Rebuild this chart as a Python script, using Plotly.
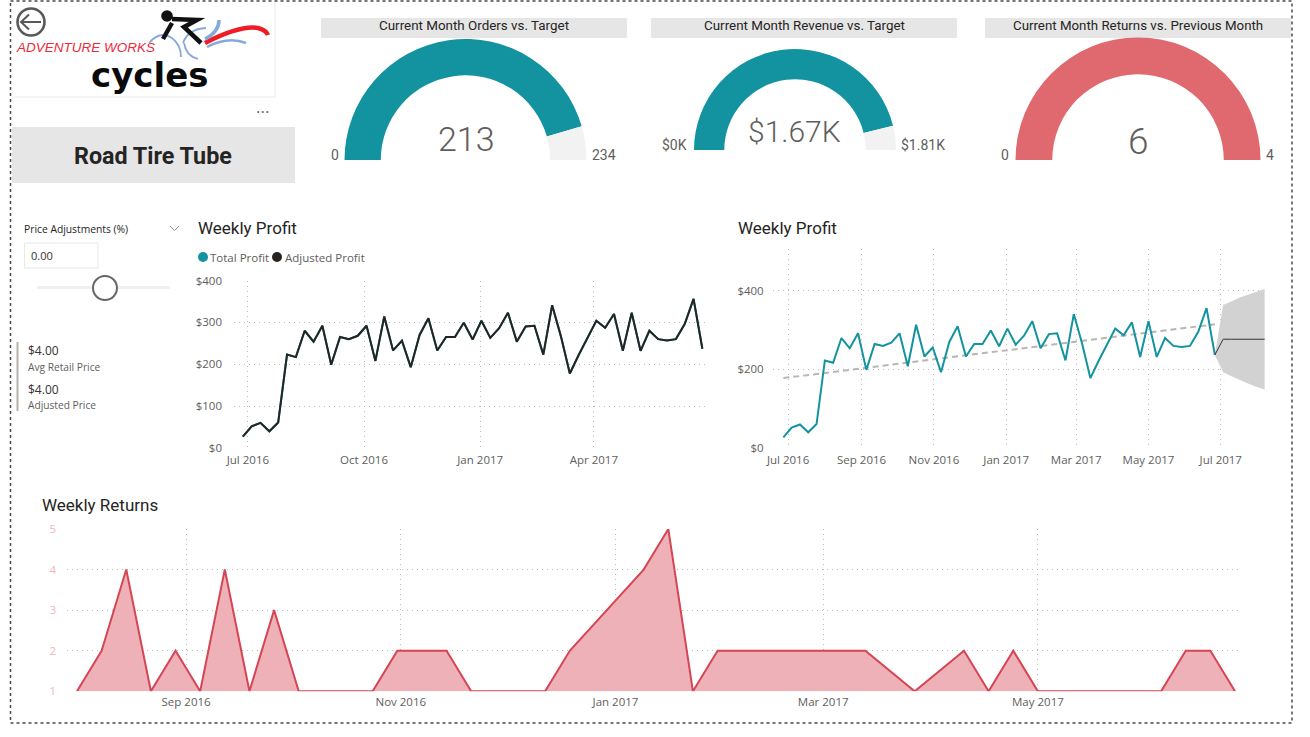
import pandas as pd
import plotly.graph_objects as go

W, H = 1310, 737

# ---------- data ----------
profit_values = [27, 52, 60, 40, 61, 223, 217, 280, 254, 292, 199, 265, 260, 268, 292, 208, 314, 233,
                 256, 193, 270, 310, 233, 265, 265, 299, 259, 304, 263, 286, 323, 254, 290, 292, 223,
                 341, 266, 178, 222, 264, 304, 287, 320, 232, 323, 232, 280, 260, 257, 260, 296, 356, 237]
profit_start = "2016-06-27"

trend_dates = ["2016-06-27", "2017-06-26"]
trend_values = [178, 315]

forecast_dates = ["2017-06-26", "2017-07-03", "2017-07-10", "2017-07-17", "2017-07-24", "2017-07-31", "2017-08-07"]
forecast_values = [237, 277, 277, 277, 277, 277, 277]
forecast_upper = [237, 364, 373, 383, 390, 398, 405]
forecast_lower = [237, 193, 183, 173, 164, 156, 149]

returns_dates = ["2016-08-01", "2016-08-08", "2016-08-15", "2016-08-22", "2016-08-29", "2016-09-05", "2016-09-12",
                 "2016-09-19", "2016-09-26", "2016-10-03", "2016-10-10", "2016-10-17", "2016-10-24", "2016-10-31",
                 "2016-11-07", "2016-11-14", "2016-11-21", "2016-11-28", "2016-12-05", "2016-12-12", "2016-12-19",
                 "2017-01-09", "2017-01-16", "2017-01-23", "2017-01-30", "2017-02-06", "2017-02-13", "2017-02-20",
                 "2017-02-27", "2017-03-06", "2017-03-13", "2017-03-27", "2017-04-10", "2017-04-17", "2017-04-24",
                 "2017-05-01", "2017-05-08", "2017-05-15", "2017-05-22", "2017-05-29", "2017-06-05", "2017-06-12",
                 "2017-06-19", "2017-06-26"]
returns_values = [1, 2, 4, 1, 2, 1, 4, 1, 3, 1, 1, 1, 1, 2, 2, 2, 1, 1, 1, 1, 2,
                  4, 5, 1, 2, 2, 2, 2, 2, 2, 2, 1, 2, 1, 2, 1, 1, 1, 1, 1, 1, 2, 2, 1]
returns_base = [1] * len(returns_values)

orders_gauge = [213, 21, 234]
revenue_gauge = [1670, 140, 1810]
returns_gauge = [6, 0, 6]

ticks1 = ["2016-07-01", "2016-10-01", "2017-01-01", "2017-04-01"]
ticks1_text = ["Jul 2016", "Oct 2016", "Jan 2017", "Apr 2017"]
ticks2 = ["2016-07-01", "2016-09-01", "2016-11-01", "2017-01-01", "2017-03-01", "2017-05-01", "2017-07-01"]
ticks2_text = ["Jul 2016", "Sep 2016", "Nov 2016", "Jan 2017", "Mar 2017", "May 2017", "Jul 2017"]
ticks3 = ["2016-09-01", "2016-11-01", "2017-01-01", "2017-03-01", "2017-05-01"]
ticks3_text = ["Sep 2016", "Nov 2016", "Jan 2017", "Mar 2017", "May 2017"]

# ---------- style ----------
TEAL = "#12939F"
DARK = "#252423"
RED = "#E0696F"
RED_LINE = "#D64554"
RED_FILL = "#EEB1B7"
PALE = "#F2F2F2"
GREY_TXT = "#605E5C"
BODY = "Open Sans, sans-serif"
HEAD = "Roboto, sans-serif"
GRID = "#BDBBB9"

profit_dates = pd.date_range(profit_start, periods=len(profit_values), freq="7D")


def px(x):
    return x / W


def py(y):
    return 1 - y / H


def domain(a, b):
    return [px(a), px(b)]


def ydomain(top, bottom):
    return [py(bottom), py(top)]


annotations, shapes = [], []


def text(x, y, s, size=12, color=GREY_TXT, anchor="left", family=BODY, weight=None):
    font = dict(size=size, color=color, family=family)
    if weight:
        font["weight"] = weight
    annotations.append(dict(x=px(x), y=py(y), xref="paper", yref="paper", text=s, showarrow=False,
                            xanchor=anchor, yanchor="middle", font=font, borderpad=0, borderwidth=0))


def rect(x0, y0, x1, y1, fill="rgba(0,0,0,0)", line=None, width=1, dash="solid"):
    shapes.append(dict(type="rect", xref="paper", yref="paper", x0=px(x0), x1=px(x1), y0=py(y0), y1=py(y1),
                       fillcolor=fill, line=dict(color=line or "rgba(0,0,0,0)", width=width if line else 0, dash=dash),
                       layer="below"))


def circle(cx, cy, r, fill="rgba(0,0,0,0)", line=None, width=1):
    shapes.append(dict(type="circle", xref="paper", yref="paper", x0=px(cx - r), x1=px(cx + r), y0=py(cy + r),
                       y1=py(cy - r), fillcolor=fill,
                       line=dict(color=line or "rgba(0,0,0,0)", width=width if line else 0), layer="above"))


def stroke(cmds, color, width=1, cap_layer="above"):
    """cmds like [('M',x,y),('L',x,y),('Q',cx,cy,x,y)] in page pixels."""
    parts = []
    for c in cmds:
        coords = []
        for i in range(1, len(c), 2):
            coords.append(f"{px(c[i]):.5f},{py(c[i + 1]):.5f}")
        parts.append(c[0] + " " + " ".join(coords))
    shapes.append(dict(type="path", xref="paper", yref="paper", path=" ".join(parts),
                       line=dict(color=color, width=width), layer=cap_layer))


# ---------- page furniture ----------
rect(10.5, 1, 1292, 723, line="#4A4A4A", width=1.5, dash="dot")

# logo box
stroke([("M", 275, 2), ("L", 275, 97), ("L", 12, 97)], "#EAEAEA", 1)
# back arrow
circle(31, 22, 13.5, line="#595959", width=2.6)
stroke([("M", 21, 22), ("L", 41, 22)], "#595959", 2)
stroke([("M", 29, 14.5), ("L", 21, 22), ("L", 29, 29.5)], "#595959", 2)
# logo: wheels
stroke([("M", 149, 43), ("Q", 160, 30, 172, 38), ("Q", 181, 45, 181, 57)], "#86A9DC", 1.8)
stroke([("M", 183, 43), ("Q", 188, 29, 206, 28)], "#86A9DC", 1.8)
stroke([("M", 184, 43), ("Q", 186, 56, 198, 59)], "#86A9DC", 1.8)
# logo: rider
circle(167, 16, 5.8, fill="#111111")
stroke([("M", 172, 19), ("L", 197, 20), ("L", 184, 27), ("L", 201, 43)], "#111111", 4.5)
stroke([("M", 172, 23), ("L", 163, 39)], "#111111", 4.5)
# logo: swooshes
stroke([("M", 205, 43), ("Q", 240, 25, 258, 28), ("Q", 266, 30, 268, 35)], "#EE1C25", 4.5)
stroke([("M", 205, 39), ("Q", 219, 32, 219, 20)], "#86A9DC", 3.5)
stroke([("M", 207, 47), ("Q", 228, 36, 246, 43)], "#86A9DC", 2.5)
text(15.5, 47, "<i>ADVENTURE WORKS</i>", 13.5, "#EE2A3A", family="Liberation Sans, sans-serif")
text(149, 75, "<b>cycles</b>", 34, "#0A0A0A", anchor="center", family="DejaVu Sans, sans-serif")
text(262, 106, "...", 17, "#666666", anchor="center")

# product title
rect(12, 127, 295, 183, fill="#E6E6E6")
text(153, 156, "<b>Road Tire Tube</b>", 23.3, "#252423", anchor="center", family=HEAD)

# gauge headers
rect(321, 18, 627, 38, fill="#E6E6E6")
rect(651, 18, 957, 38, fill="#E6E6E6")
rect(985, 18, 1291, 38, fill="#E6E6E6")
text(474, 26, "Current Month Orders vs. Target", 13.4, "#252423", anchor="center", family=HEAD)
text(804, 26, "Current Month Revenue vs. Target", 13.4, "#252423", anchor="center", family=HEAD)
text(1138, 26, "Current Month Returns vs. Previous Month", 13.3, "#252423", anchor="center", family=HEAD)

# gauge texts
text(466, 139, "213", 34, GREY_TXT, anchor="center", family=HEAD, weight=300)
text(335, 155, "0", 14, GREY_TXT, anchor="center", family=HEAD)
text(604, 155, "234", 14, GREY_TXT, anchor="center", family=HEAD)
text(794, 132, "$1.67K", 30, GREY_TXT, anchor="center", family=HEAD, weight=300)
text(674, 145, "$0K", 14, GREY_TXT, anchor="center", family=HEAD)
text(923, 145, "$1.81K", 14, GREY_TXT, anchor="center", family=HEAD)
text(1138, 141, "6", 37, GREY_TXT, anchor="center", family=HEAD, weight=300)
text(1005, 155, "0", 14, GREY_TXT, anchor="center", family=HEAD)
text(1270, 155, "4", 14, GREY_TXT, anchor="center", family=HEAD)

# slicer
text(24, 229, "Price Adjustments (%)", 10.3, "#252423")
stroke([("M", 170, 226), ("L", 174.5, 230.5), ("L", 179, 226)], "#7A9A9A", 1)
rect(24.5, 243, 98, 268, line="#E8E8E8", width=1)
text(31, 255.5, "0.00", 11, "#333333")
rect(37, 286, 170, 289, fill="#F0F0F0")
circle(105, 288, 12, fill="#FFFFFF", line="#666666", width=2)

# card
rect(16.5, 342, 18.5, 411, fill="#B3B0AD")
text(28, 351, "$4.00", 12, "#333333")
text(28, 366.5, "Avg Retail Price", 10.2, GREY_TXT)
text(28, 389, "$4.00", 12, "#333333")
text(28, 404.5, "Adjusted Price", 10.2, GREY_TXT)

# chart titles and legend
text(197.5, 228, "Weekly Profit", 17, "#252423", family=HEAD)
text(737.5, 228, "Weekly Profit", 17, "#252423", family=HEAD)
text(42, 505, "Weekly Returns", 17, "#252423", family=HEAD)
circle(203, 257, 5, fill=TEAL)
text(209.5, 257, "Total Profit", 11.5, GREY_TXT)
circle(277, 257, 5, fill=DARK)
text(284.5, 257, "Adjusted Profit", 11.5, GREY_TXT)

# ---------- traces ----------
fig = go.Figure()

# chart 1
fig.add_trace(go.Scatter(x=profit_dates, y=profit_values, mode="lines", name="Total Profit", xaxis="x", yaxis="y",
                         line=dict(color=TEAL, width=2), showlegend=False))
fig.add_trace(go.Scatter(x=profit_dates, y=profit_values, mode="lines", name="Adjusted Profit", xaxis="x", yaxis="y",
                         line=dict(color=DARK, width=2), showlegend=False))

# chart 2
fig.add_trace(go.Scatter(x=forecast_dates, y=forecast_upper, mode="lines", name="Upper bound", xaxis="x2", yaxis="y2",
                         line=dict(width=0), showlegend=False))
fig.add_trace(go.Scatter(x=forecast_dates, y=forecast_lower, mode="lines", name="Lower bound", xaxis="x2", yaxis="y2",
                         line=dict(width=0), fill="tonexty", fillcolor="#D2D2D2", showlegend=False))
fig.add_trace(go.Scatter(x=trend_dates, y=trend_values, mode="lines", name="Trend", xaxis="x2", yaxis="y2",
                         line=dict(color="#B8B6B4", width=2, dash="6px,4px"), showlegend=False))
fig.add_trace(go.Scatter(x=profit_dates, y=profit_values, mode="lines", name="Total Profit", xaxis="x2", yaxis="y2",
                         line=dict(color=TEAL, width=2), showlegend=False))
fig.add_trace(go.Scatter(x=forecast_dates, y=forecast_values, mode="lines", name="Forecast", xaxis="x2", yaxis="y2",
                         line=dict(color="#333333", width=1), showlegend=False))

# chart 3
fig.add_trace(go.Scatter(x=returns_dates, y=returns_base, mode="lines", xaxis="x3", yaxis="y3", name="Base",
                         line=dict(width=0), showlegend=False, cliponaxis=False))
fig.add_trace(go.Scatter(x=returns_dates, y=returns_values, mode="lines", xaxis="x3", yaxis="y3", name="Weekly Returns",
                         line=dict(color=RED_LINE, width=2), fill="tonexty", fillcolor=RED_FILL, showlegend=False,
                         cliponaxis=False))


# gauges as half-visible rings
def gauge(values, cx, cy, r, color):
    fig.add_trace(go.Pie(values=values, sort=False, direction="clockwise", rotation=270, hole=0.70,
                         textinfo="none", hoverinfo="skip", showlegend=False,
                         marker=dict(colors=[color, PALE, "rgba(0,0,0,0)"], line=dict(width=0)),
                         domain=dict(x=domain(cx - r, cx + r), y=ydomain(cy - r, cy + r))))


gauge(orders_gauge, 465.5, 160, 121, TEAL)
gauge(revenue_gauge, 795, 150, 101, TEAL)
gauge(returns_gauge, 1138, 160, 122.5, RED)


# ---------- axes ----------
def xaxis(dom, rng, vals, labels, anchor, size=11.5, standoff=3):
    return dict(domain=domain(*dom), range=rng, type="date", tickvals=vals, ticktext=labels, anchor=anchor,
                showgrid=True, gridcolor=GRID, griddash="1px,4px", gridwidth=1, zeroline=False, showline=False,
                ticks="", tickfont=dict(size=size, color=GREY_TXT, family=BODY), tickangle=0, automargin=False,
                ticklabelstandoff=standoff)


def yaxis(dom, rng, vals, labels, anchor, color=GREY_TXT, standoff=8):
    return dict(domain=ydomain(*dom), range=rng, tickvals=vals, ticktext=labels, anchor=anchor, showgrid=True,
                gridcolor=GRID, griddash="1px,4px", gridwidth=1, zeroline=False, showline=False, ticks="",
                tickfont=dict(size=11.5, color=color, family=BODY), automargin=False, ticklabelstandoff=standoff)


fig.update_layout(
    width=W, height=H, margin=dict(l=0, r=0, t=0, b=0, autoexpand=False), paper_bgcolor="#FFFFFF",
    plot_bgcolor="rgba(0,0,0,0)", showlegend=False, annotations=annotations, shapes=shapes,
    hovermode="closest", font=dict(family=BODY),
    xaxis=xaxis((234, 708.7), ["2016-06-20", "2017-07-01"], ticks1, ticks1_text, "y"),
    yaxis=yaxis((280.5, 448), [0, 400], [0, 100, 200, 300, 400], ["$0", "$100", "$200", "$300", "$400"], "x",
                standoff=11),
    xaxis2=xaxis((772.7, 1267), ["2016-06-18", "2017-08-09"], ticks2, ticks2_text, "y2"),
    yaxis2=yaxis((249.3, 448), [0, 506], [0, 200, 400], ["$0", "$200", "$400"], "x2"),
    xaxis3=xaxis((67, 1240), ["2016-07-29 04:00", "2017-06-27 10:00"], ticks3, ticks3_text, "y3", standoff=2),
    yaxis3=yaxis((529, 691.3), [1, 5], [1, 2, 3, 4, 5], ["1", "2", "3", "4", "5"], "x3", color="#F2B5BA", standoff=10),
)

fig.write_html("out.html", config=dict(displayModeBar=False),
               post_script="document.body.style.margin='0';")
